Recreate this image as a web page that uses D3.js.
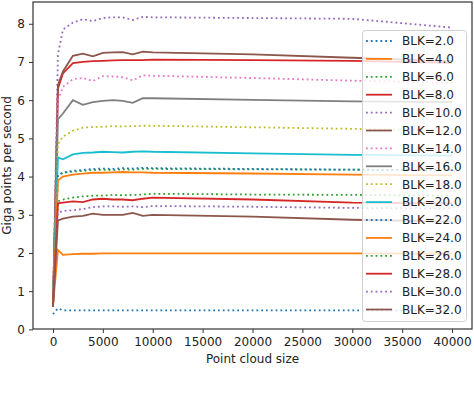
<!DOCTYPE html>
<html>
<head>
<meta charset="utf-8">
<script src="https://cdn.jsdelivr.net/npm/d3@7"></script>
<style>
  body { margin: 0; background: #fff; }
  svg { font-family: "DejaVu Sans", sans-serif; }
</style>
</head>
<body>
<div id="chart"></div>
<script>
// point cloud sizes (x samples)
const sizes = [0, 500, 1000, 2000, 3000, 4000, 5000, 6000, 7000, 8000, 9000, 10000, 20000, 30000, 40000];

const blkLabels = ['BLK=2.0', 'BLK=4.0', 'BLK=6.0', 'BLK=8.0', 'BLK=10.0', 'BLK=12.0', 'BLK=14.0', 'BLK=16.0',
                   'BLK=18.0', 'BLK=20.0', 'BLK=22.0', 'BLK=24.0', 'BLK=26.0', 'BLK=28.0', 'BLK=30.0', 'BLK=32.0'];

// giga points per second, one array per BLK
const blk2  = [0.40, 0.55, 0.50, 0.50, 0.50, 0.50, 0.50, 0.50, 0.50, 0.50, 0.50, 0.50, 0.50, 0.50, 0.50];
const blk4  = [0.60, 2.08, 1.95, 1.97, 1.98, 1.98, 1.99, 1.99, 1.99, 1.99, 1.99, 1.99, 1.99, 1.99, 1.98];
const blk6  = [0.60, 4.02, 4.10, 4.13, 4.15, 4.17, 4.18, 4.17, 4.19, 4.18, 4.20, 4.20, 4.19, 4.18, 4.17];
const blk8  = [0.60, 6.30, 6.70, 6.97, 7.00, 7.02, 7.03, 7.04, 7.05, 7.05, 7.05, 7.06, 7.05, 7.03, 6.98];
const blk10 = [0.60, 7.20, 7.85, 8.03, 8.12, 8.07, 8.15, 8.17, 8.17, 8.10, 8.18, 8.17, 8.15, 8.13, 7.90];
const blk12 = [0.60, 6.40, 6.75, 7.16, 7.22, 7.15, 7.24, 7.25, 7.26, 7.20, 7.27, 7.25, 7.20, 7.11, 7.02];
const blk14 = [0.60, 6.00, 6.35, 6.55, 6.58, 6.50, 6.63, 6.62, 6.60, 6.52, 6.65, 6.64, 6.58, 6.51, 6.45];
const blk16 = [0.60, 5.50, 5.65, 6.00, 5.88, 5.95, 5.98, 6.00, 5.98, 5.93, 6.05, 6.05, 6.01, 5.97, 5.95];
const blk18 = [0.60, 4.85, 5.05, 5.20, 5.28, 5.30, 5.30, 5.32, 5.31, 5.32, 5.33, 5.33, 5.29, 5.25, 5.20];
const blk20 = [0.60, 4.50, 4.45, 4.58, 4.62, 4.63, 4.65, 4.64, 4.63, 4.65, 4.66, 4.65, 4.61, 4.57, 4.55];
const blk22 = [0.60, 4.05, 4.10, 4.15, 4.17, 4.20, 4.21, 4.20, 4.22, 4.21, 4.23, 4.22, 4.20, 4.18, 4.17];
const blk24 = [0.60, 3.90, 4.00, 4.05, 4.08, 4.10, 4.10, 4.11, 4.12, 4.11, 4.11, 4.10, 4.08, 4.05, 4.03];
const blk26 = [0.60, 3.35, 3.40, 3.45, 3.48, 3.50, 3.50, 3.52, 3.51, 3.52, 3.53, 3.55, 3.53, 3.52, 3.50];
const blk28 = [0.60, 3.30, 3.32, 3.35, 3.33, 3.40, 3.42, 3.40, 3.40, 3.38, 3.42, 3.45, 3.40, 3.32, 3.30];
const blk30 = [0.60, 3.05, 3.10, 3.12, 3.15, 3.20, 3.22, 3.22, 3.21, 3.22, 3.20, 3.23, 3.21, 3.18, 3.16];
const blk32 = [0.60, 2.85, 2.90, 2.95, 2.97, 3.03, 3.00, 3.00, 3.00, 3.05, 2.97, 3.00, 2.95, 2.87, 2.82];

const xTicks = [0, 5000, 10000, 15000, 20000, 25000, 30000, 35000, 40000];
const yTicks = [0, 1, 2, 3, 4, 5, 6, 7, 8];

const allSeries = [blk2, blk4, blk6, blk8, blk10, blk12, blk14, blk16,
                   blk18, blk20, blk22, blk24, blk26, blk28, blk30, blk32];

// matplotlib tab10 cycle, dotted / solid alternating
const tab10 = ['#1f77b4', '#ff7f0e', '#2ca02c', '#d62728', '#9467bd',
               '#8c564b', '#e377c2', '#7f7f7f', '#bcbd22', '#17becf'];

const width = 474, height = 394;
const plot = { left: 33, right: 472, top: 2, bottom: 329 };

const svg = d3.select('#chart').append('svg')
    .attr('width', width)
    .attr('height', height);

const x = d3.scaleLinear().domain([-2000, 42000]).range([plot.left, plot.right]);
const y = d3.scaleLinear().domain([0.01, 8.57]).range([plot.bottom, plot.top]);

// axes
const xAxis = svg.append('g')
    .attr('transform', `translate(0,${plot.bottom})`)
    .call(d3.axisBottom(x).tickValues(xTicks).tickFormat(d3.format('d')).tickSizeOuter(0).tickSize(4).tickPadding(4));
const yAxis = svg.append('g')
    .attr('transform', `translate(${plot.left},0)`)
    .call(d3.axisLeft(y).tickValues(yTicks).tickFormat(d3.format('d')).tickSizeOuter(0).tickSize(4).tickPadding(4));

[xAxis, yAxis].forEach(a => {
  a.select('.domain').remove();
  a.selectAll('line').attr('stroke', '#333').attr('stroke-width', 1);
  a.selectAll('text').attr('fill', '#222').style('font-size', '12px').style('font-family', '"DejaVu Sans", sans-serif');
});

// frame
svg.append('rect')
    .attr('x', plot.left)
    .attr('y', plot.top)
    .attr('width', plot.right - plot.left)
    .attr('height', plot.bottom - plot.top)
    .attr('fill', 'none')
    .attr('stroke', '#333')
    .attr('stroke-width', 1.2);

// axis labels
svg.append('text')
    .attr('x', (plot.left + plot.right) / 2)
    .attr('y', 363)
    .attr('text-anchor', 'middle')
    .attr('fill', '#222')
    .style('font-size', '12px')
    .text('Point cloud size');

svg.append('text')
    .attr('transform', `translate(11,${(plot.top + plot.bottom) / 2}) rotate(-90)`)
    .attr('text-anchor', 'middle')
    .attr('fill', '#222')
    .style('font-size', '12px')
    .text('Giga points per second');

const line = d3.line()
    .x((d, i) => x(sizes[i]))
    .y(d => y(d));

const dash = i => i % 2 === 0 ? '1.8,3' : null;

svg.append('g').selectAll('path')
    .data(allSeries)
    .enter()
    .append('path')
    .attr('d', line)
    .attr('fill', 'none')
    .attr('stroke', (d, i) => tab10[i % 10])
    .attr('stroke-width', 1.8)
    .attr('stroke-dasharray', (d, i) => dash(i));

// legend
const legend = svg.append('g');
legend.append('rect')
    .attr('x', 362.5)
    .attr('y', 30.5)
    .attr('width', 104)
    .attr('height', 291)
    .attr('rx', 3)
    .attr('fill', 'white')
    .attr('fill-opacity', 0.8)
    .attr('stroke', '#d0d0d0');

const rowY = i => 41 + i * 17.9;

legend.selectAll('line')
    .data(blkLabels)
    .enter()
    .append('line')
    .attr('x1', 366)
    .attr('x2', 392)
    .attr('y1', (d, i) => rowY(i))
    .attr('y2', (d, i) => rowY(i))
    .attr('stroke', (d, i) => tab10[i % 10])
    .attr('stroke-width', 1.8)
    .attr('stroke-dasharray', (d, i) => dash(i));

legend.selectAll('text')
    .data(blkLabels)
    .enter()
    .append('text')
    .attr('x', 402)
    .attr('y', (d, i) => rowY(i))
    .attr('dy', '0.36em')
    .attr('fill', '#222')
    .style('font-size', '12px')
    .text(d => d);
</script>
</body>
</html>
